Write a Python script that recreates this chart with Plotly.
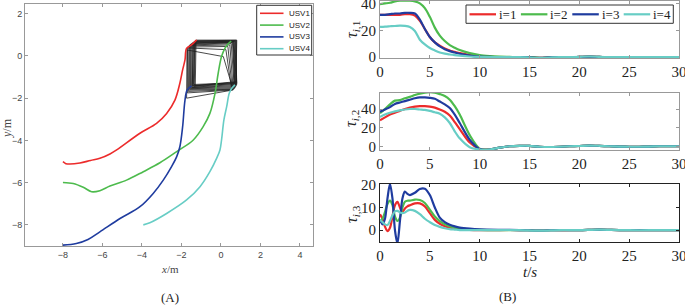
import plotly.graph_objects as go

# ---------------- (A) trajectory data ----------------
usv_names = ["USV1", "USV2", "USV3", "USV4"]
usv1_x = [-8.0, -7.85, -7.65, -7.14, -6.6, -6.13, -5.62, -5.28, -4.10, -3.26, -2.75, -2.33, -2.08, -1.94, -1.82, -1.74, -1.49, -1.23]
usv1_y = [-5.01, -5.10, -5.12, -5.07, -4.95, -4.85, -4.64, -4.45, -3.66, -3.19, -2.72, -2.09, -1.29, -0.66, -0.19, 0.36, 0.52, 0.76]
usv2_x = [-8.0, -7.48, -6.97, -6.55, -6.13, -5.62, -4.78, -3.93, -3.09, -2.24, -1.40, -0.90, -0.56, -0.30, -0.14, 0.03, 0.20, 0.37, 0.52]
usv2_y = [-5.99, -6.04, -6.22, -6.43, -6.38, -6.16, -5.88, -5.48, -5.06, -4.53, -3.98, -3.35, -2.72, -1.77, -0.82, -0.03, 0.36, 0.58, 0.70]
usv3_x = [-8.0, -7.32, -6.73, -6.13, -5.11, -4.10, -3.43, -2.92, -2.50, -2.24, -2.08, -1.94, -1.82, -1.71, -1.49]
usv3_y = [-8.96, -8.88, -8.69, -8.33, -7.70, -7.14, -6.51, -5.88, -5.24, -4.77, -4.30, -3.35, -2.09, -1.61, -1.42]
usv4_x = [-3.93, -3.60, -2.75, -1.74, -1.06, -0.56, -0.22, -0.05, 0.03, 0.15, 0.29, 0.42, 0.54, 0.71]
usv4_y = [-8.00, -7.90, -7.46, -6.82, -6.19, -5.48, -4.85, -4.45, -3.98, -3.03, -2.40, -1.77, -1.54, -1.37]

# formation snapshots (corner positions of USV1, USV2, USV4, USV3)
snap_r_x = [-1.70, -1.72, -1.68, -1.62, -1.58, -1.55, -1.50, -1.45, -1.40, -1.35, -1.30, -1.26, -1.32, -1.40]
snap_r_y = [0.28, 0.38, 0.42, 0.48, 0.52, 0.55, 0.58, 0.62, 0.65, 0.68, 0.72, 0.75, 0.70, 0.62]
snap_g_x = [0.12, 0.25, 0.35, 0.45, 0.52, 0.58, 0.62, 0.66, 0.70, 0.74, 0.78, 0.80, 0.72, 0.65]
snap_g_y = [-0.03, 0.30, 0.45, 0.52, 0.58, 0.62, 0.65, 0.68, 0.70, 0.72, 0.74, 0.75, 0.70, 0.65]
snap_c_x = [0.62, 0.55, 0.58, 0.62, 0.68, 0.72, 0.75, 0.78, 0.80, 0.80, 0.78, 0.76, 0.70, 0.66]
snap_c_y = [-1.61, -1.62, -1.60, -1.58, -1.55, -1.50, -1.45, -1.40, -1.35, -1.30, -1.25, -1.22, -1.28, -1.32]
snap_b_x = [-1.74, -1.70, -1.65, -1.62, -1.58, -1.55, -1.52, -1.48, -1.45, -1.40, -1.35, -1.30, -1.38, -1.45]
snap_b_y = [-2.00, -1.75, -1.68, -1.62, -1.58, -1.55, -1.52, -1.50, -1.48, -1.45, -1.42, -1.40, -1.35, -1.40]

# ---------------- (B) control input data ----------------
series_names = ["i=1", "i=2", "i=3", "i=4"]
t12 = [0, 0.5, 1, 1.5, 2, 2.5, 3, 3.5, 4, 4.5, 5, 5.5, 6, 6.5, 7, 7.5, 8, 9, 10, 11, 12, 13, 14, 15, 16, 17, 18, 19, 20, 21, 22, 23, 24, 25, 26, 27, 28, 29, 30]
tau1_1 = [31.5, 31.5, 31.5, 31.5, 31.5, 32, 32, 31, 27, 21, 15, 11, 8.5, 6.5, 5, 4, 3, 1.6, 0.5, 0.2, 0.1, 0, 0, -0.2, -0.4, -0.2, 0, 0, 0.2, 0.4, 0.2, 0, 0, 0, 0, 0, 0, 0, 0]
tau1_2 = [39.5, 40, 40.5, 41.5, 42, 42, 42, 41.5, 40, 36.5, 30, 22, 16, 12, 9, 7, 5.3, 3, 1.5, 0.8, 0.4, 0.2, 0, 0, -0.4, -0.2, 0, 0, 0.2, 0.4, 0.2, 0, 0, 0, 0, 0, 0, 0, 0]
tau1_3 = [31.5, 31.5, 32, 32.5, 32.5, 33, 33, 32.5, 28, 21, 15, 11, 8, 6, 4.5, 3.5, 2.6, 1.2, 0.4, 0.2, 0.1, 0, 0, -0.2, -0.4, -0.2, 0, 0, 0.2, 0.4, 0.2, 0, 0, 0, 0, 0, 0, 0, 0]
tau1_4 = [22.5, 22.8, 23, 23.2, 23.5, 23.3, 22.5, 19.5, 13, 9.5, 6.8, 5, 3.5, 2.6, 2, 1.5, 1.1, 0.5, 0.2, 0.1, 0, 0, 0, -0.3, -0.6, -0.3, 0, 0, 0.2, 0.5, 0.2, 0, 0, 0, 0, 0, 0, 0, 0]

tau2_1 = [28, 31, 34, 36, 38, 40, 41.5, 42.5, 43, 43, 42.5, 41.5, 39.5, 37, 33, 26, 18.5, 4, -3, -3.5, -1.5, 0, 0.5, 0.5, -0.5, -0.8, -0.5, 0, 0.3, 0.8, 0.5, 0, -0.3, -0.5, -0.5, -0.3, 0, 0, 0]
tau2_2 = [35.5, 40, 45, 49, 49.5, 51.5, 53, 55, 56.5, 57.5, 58, 57.5, 56, 54, 50, 43, 34, 12, -2.5, -3.5, -1.5, 0, 0.5, 0.5, -0.5, -0.8, -0.5, 0, 0.3, 0.8, 0.5, 0, -0.3, -0.5, -0.5, -0.3, 0, 0, 0]
tau2_3 = [37, 39.5, 42, 45.5, 47, 48.5, 50, 51.5, 52.5, 52.5, 52, 51, 48, 45, 41, 34, 25, 7, -3, -3.5, -1.5, 0, 0.5, 0.5, -0.5, -0.8, -0.5, 0, 0.3, 0.8, 0.5, 0, -0.3, -0.5, -0.5, -0.3, 0, 0, 0]
tau2_4 = [31.5, 34, 36, 37.5, 38.5, 39.5, 40, 40, 39.5, 39, 38, 36.5, 35, 31, 25, 16, 8.5, -1, -3.5, -3.5, -1.5, 0, 0.5, 0.5, -0.5, -0.8, -0.5, 0, 0.3, 0.8, 0.5, 0, -0.3, -0.5, -0.5, -0.3, 0, 0, 0]

t3 = [0, 0.25, 0.5, 0.75, 1, 1.25, 1.5, 1.75, 2, 2.25, 2.5, 2.75, 3, 3.5, 4, 4.5, 5, 5.5, 6, 6.5, 7, 7.5, 8, 9, 10, 12, 14, 16, 18, 20, 22, 24, 26, 28, 30]
tau3_1 = [7, 5, 1.5, -0.5, 1, 6, 11, 12.5, 10, 8, 9.5, 10.5, 11, 11.8, 11.8, 10.5, 7.5, 4.5, 2.8, 1.7, 1, 0.6, 0.4, 0.1, 0, 0, 0, -0.2, 0, 0, 0.2, 0, -0.1, 0, 0]
tau3_2 = [3.8, 5, 8, 11.5, 13, 11, 6, 4, 5.5, 10, 12.5, 13, 13, 13.5, 13.3, 12, 9, 6, 4, 2.6, 1.7, 1.1, 0.7, 0.3, 0.1, 0, 0, -0.2, 0, 0, 0.2, 0, -0.1, 0, 0]
tau3_3 = [4.5, 2.5, 5, 14, 20.5, 14, 0, -6, 4, 14, 17, 16, 15.5, 16.5, 18.2, 18.3, 15.5, 10, 5.5, 3.5, 2.3, 1.6, 1.1, 0.6, 0.3, 0.1, 0, -0.2, 0, 0, 0.2, 0, -0.1, 0, 0]
tau3_4 = [4.5, 3.5, 2.5, 2.2, 4, 6.5, 8.3, 8.5, 7.8, 7.5, 7.8, 8.5, 8.9, 8.5, 7, 5, 3.5, 2.2, 1.4, 0.8, 0.4, 0.2, 0, 0, 0, 0, 0, -0.3, 0, 0, 0.2, 0, -0.1, 0, 0]

colors = ["#ec2b2b", "#4dbb4d", "#1f3c9f", "#67cdc5"]

W, H = 685, 307
def px(x):
    return x / W
def py(y):
    return 1 - y / H

fig = go.Figure()

# formation polygons
fx, fy = [], []
for k in range(len(snap_r_x)):
    fx += [snap_r_x[k], snap_g_x[k], snap_c_x[k], snap_b_x[k], snap_r_x[k], None]
    fy += [snap_r_y[k], snap_g_y[k], snap_c_y[k], snap_b_y[k], snap_r_y[k], None]
fig.add_trace(go.Scatter(x=fx, y=fy, mode="lines", line=dict(color="rgba(30,30,30,0.8)", width=1),
                         xaxis="x", yaxis="y", showlegend=False, hoverinfo="skip"))

trajs = [(usv1_x, usv1_y), (usv2_x, usv2_y), (usv3_x, usv3_y), (usv4_x, usv4_y)]
for (xs, ys), c, n in zip(trajs, colors, usv_names):
    fig.add_trace(go.Scatter(x=xs, y=ys, mode="lines", name=n,
                             line=dict(color=c, width=1.6, shape="spline", smoothing=1.0),
                             xaxis="x", yaxis="y", showlegend=False))

panels = [
    ("x2", "y2", t12, [tau1_1, tau1_2, tau1_3, tau1_4]),
    ("x3", "y3", t12, [tau2_1, tau2_2, tau2_3, tau2_4]),
    ("x4", "y4", t3, [tau3_1, tau3_2, tau3_3, tau3_4]),
]
for xa, ya, tt, ser in panels:
    for s, c, n in zip(ser, colors, series_names):
        fig.add_trace(go.Scatter(x=tt, y=s, mode="lines", name=n,
                                 line=dict(color=c, width=2.2, shape="spline", smoothing=0.8),
                                 xaxis=xa, yaxis=ya, showlegend=False))

sans = "Liberation Sans, Arial, sans-serif"
serif = "Liberation Serif, Times New Roman, serif"

def ax(domain, rng, tickvals, font, color, anchor, linecolor):
    return dict(domain=domain, range=rng, tickvals=tickvals, ticks="inside", ticklen=3,
                tickcolor=linecolor, showline=True, linecolor=linecolor, linewidth=1,
                mirror="ticks", showgrid=False, zeroline=False, anchor=anchor,
                automargin=False, ticklabeloverflow="allow",
                tickfont=dict(family=font["family"], size=font["size"], color=color))

fa = dict(family=sans, size=9)
fb = dict(family=serif, size=15)
xdomR = [px(380), px(679)]
fig.update_layout(
    width=W, height=H, margin=dict(l=0, r=0, t=0, b=0, autoexpand=False),
    paper_bgcolor="white", plot_bgcolor="white", showlegend=False,
    xaxis=ax([px(25), px(313)], [-9.92, 4.66], [-8, -6, -4, -2, 0, 2, 4], fa, "#444", "y", "#999"),
    yaxis=ax([py(246), py(4)], [-9.0, 2.46], [-8, -6, -4, -2, 0, 2], fa, "#444", "x", "#999"),
    xaxis2=ax(xdomR, [0, 30], [0, 5, 10, 15, 20, 25, 30], fb, "#222", "y2", "#999"),
    yaxis2=ax([py(58), py(1)], [-0.6, 41.8], [0, 20, 40], fb, "#222", "x2", "#999"),
    xaxis3=ax(xdomR, [0, 30], [0, 5, 10, 15, 20, 25, 30], fb, "#222", "y3", "#999"),
    yaxis3=ax([py(150), py(92.7)], [-4, 57.5], [0, 20, 40], fb, "#222", "x3", "#999"),
    xaxis4=ax(xdomR, [0, 30], [0, 5, 10, 15, 20, 25, 30], fb, "#222", "y4", "#222"),
    yaxis4=ax([py(242), py(184)], [-5.3, 20.4], [0, 10, 20], fb, "#222", "x4", "#222"),
)

shapes = []
annotations = []

def label(x, y, text, font, **kw):
    d = dict(xref="paper", yref="paper", x=px(x), y=py(y), text=text, showarrow=False,
             xanchor="center", yanchor="middle", font=font)
    d.update(kw)
    return d

# legend (A)
shapes.append(dict(type="rect", xref="paper", yref="paper", x0=px(256.7), x1=px(311.7), y0=py(55), y1=py(5.3),
                   line=dict(color="#333", width=1), fillcolor="white", layer="above"))
for i, (c, n) in enumerate(zip(colors, usv_names)):
    yy = 13.3 + i * 11.8
    shapes.append(dict(type="line", xref="paper", yref="paper", x0=px(260), x1=px(283.5), y0=py(yy), y1=py(yy),
                       line=dict(color=c, width=1.6), layer="above"))
    annotations.append(label(287, yy, n, dict(family=sans, size=8, color="#222"), xanchor="left"))

# legend (B)
shapes.append(dict(type="rect", xref="paper", yref="paper", x0=px(466), x1=px(673.3), y0=py(23.3), y1=py(5),
                   line=dict(color="#333", width=1), fillcolor="white", layer="above"))
for i, (c, n) in enumerate(zip(colors, series_names)):
    x0 = 469.5 + i * 51.4
    shapes.append(dict(type="line", xref="paper", yref="paper", x0=px(x0), x1=px(x0 + 26.5), y0=py(14.3), y1=py(14.3),
                       line=dict(color=c, width=2.2), layer="above"))
    annotations.append(label(x0 + 27.5, 14.5, n, dict(family=serif, size=13, color="#222"), xanchor="left"))

# axis titles and captions
annotations += [
    label(170, 268.5, "<i>x</i>/m", dict(family=serif, size=11, color="#444")),
    label(7, 128, "<i>y</i>/m", dict(family=serif, size=12, color="#444"), textangle=-90),
    label(170, 297, "(A)", dict(family=serif, size=13, color="#222")),
    label(530, 272, "<i>t</i>/<i>s</i>", dict(family=serif, size=15, color="#222")),
    label(507, 296, "(B)", dict(family=serif, size=13, color="#222")),
]
for k, ycen in zip([1, 2, 3], [30, 119, 214]):
    annotations.append(label(352, ycen, "<i>τ</i><sub><i>i</i>,%d</sub>" % k,
                             dict(family=serif, size=16, color="#222"), textangle=-90))

fig.update_layout(shapes=shapes, annotations=annotations)
fig.write_html("out.html", config={"displayModeBar": False, "staticPlot": True},
               post_script="document.body.style.margin='0';document.body.style.overflow='hidden';")
